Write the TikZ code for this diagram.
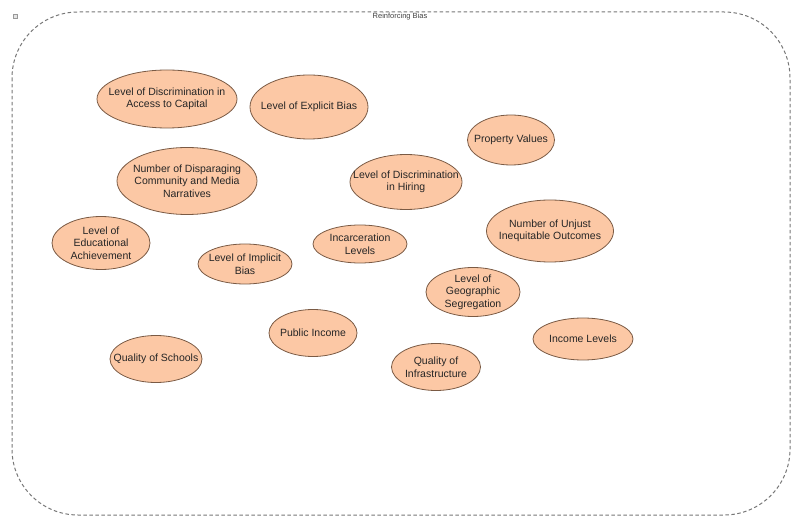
\documentclass[tikz,border=0pt]{standalone}
\usepackage{fontspec}
\setmainfont{Liberation Sans}
\usetikzlibrary{shapes.geometric}
\definecolor{peach}{HTML}{FCC8A5}
\definecolor{edgebrown}{HTML}{7A5A44}
\definecolor{boxgray}{HTML}{777777}
\begin{document}
\begin{tikzpicture}[x=1pt,y=-1pt,
 var/.style={ellipse,draw=edgebrown,fill=peach,line width=0.8pt,inner xsep=-20pt,inner ysep=-6pt,align=center,
  font=\fontsize{10.5}{12.5}\selectfont,text=black!85},
 loopbox/.style={draw=boxgray,line width=1pt,dash pattern=on 3.5pt off 2.5pt,rounded corners=66pt}]
 \useasboundingbox (0,0) rectangle (800,526);
 \draw[loopbox] (12,12) rectangle (790,515);
 \node[font=\fontsize{7.5}{9}\selectfont,text=black!75] (title) at (400,17) {Reinforcing Bias};
 \node[draw=black!40,fill=black!10,minimum size=4pt,inner sep=0pt,line width=0.3pt] (icon) at (15,16) {};
 % variables
 \node[var,minimum width=140pt,minimum height=58pt] (capital) at (167,99) {Level of Discrimination in\\Access to Capital};
 \node[var,minimum width=118pt,minimum height=64pt] (explicit) at (309,107) {Level of Explicit Bias};
 \node[var,minimum width=87pt,minimum height=50pt] (property) at (511,140) {Property Values};
 \node[var,minimum width=140pt,minimum height=67pt] (narratives) at (187,181) {Number of Disparaging\\Community and Media\\Narratives};
 \node[var,minimum width=112pt,minimum height=55pt] (hiring) at (406,182) {Level of Discrimination\\in Hiring};
 \node[var,minimum width=98pt,minimum height=53pt] (education) at (101,243) {Level of\\Educational\\Achievement};
 \node[var,minimum width=94pt,minimum height=40pt] (implicit) at (245,264) {Level of Implicit\\Bias};
 \node[var,minimum width=94pt,minimum height=38pt] (incarceration) at (360,244) {Incarceration\\Levels};
 \node[var,minimum width=127pt,minimum height=62pt] (outcomes) at (550,231) {Number of Unjust\\Inequitable Outcomes};
 \node[var,minimum width=94pt,minimum height=49pt] (segregation) at (473,292) {Level of\\Geographic\\Segregation};
 \node[var,minimum width=88pt,minimum height=47pt] (publicincome) at (313,333) {Public Income};
 \node[var,minimum width=92pt,minimum height=47pt] (schools) at (156,359) {Quality of Schools};
 \node[var,minimum width=100pt,minimum height=42pt] (income) at (583,339) {Income Levels};
 \node[var,minimum width=89pt,minimum height=47pt] (infrastructure) at (436,367) {Quality of\\Infrastructure};
\end{tikzpicture}
\end{document}
